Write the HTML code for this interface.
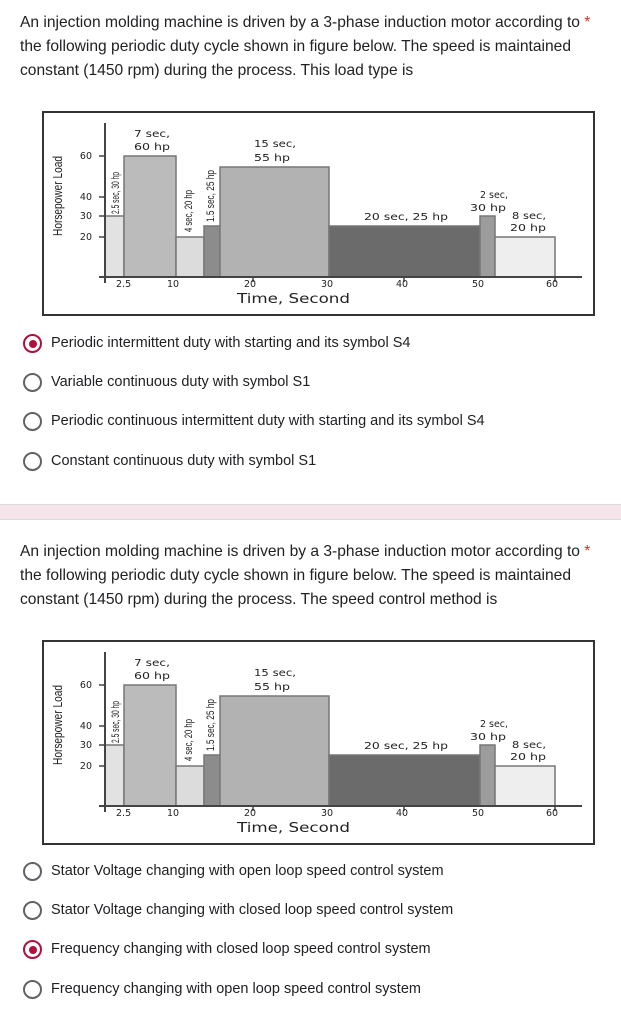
<!DOCTYPE html>
<html><head><style>
body{margin:0;width:621px;height:1024px;background:#fff;position:relative;overflow:hidden;font-family:"Liberation Sans",sans-serif;color:#202124}
.q{position:absolute;left:20px;font-size:15.6px;line-height:24px;width:600px;white-space:nowrap}
.star{color:#d93025}
.opt{position:absolute;left:51px;font-size:14.5px;line-height:18px}
.rad{position:absolute;left:23px;width:15px;height:15px;border:2px solid #5f6368;border-radius:50%;box-sizing:content-box}
.rad.on{border-color:#b0103a}
.rad.on::after{content:"";position:absolute;left:3.5px;top:3.5px;width:8px;height:8px;border-radius:50%;background:#b0103a}
.band{position:absolute;left:0;top:504px;width:621px;height:14px;background:#f5e4ea;border-top:1px solid #ddd;border-bottom:1px solid #ddd}
svg{position:absolute;left:0}
</style></head><body>

<div class="q" style="top:11px">An injection molding machine is driven by a 3-phase induction motor according to <span class="star">*</span><br>the following periodic duty cycle shown in figure below. The speed is maintained<br>constant (1450 rpm) during the process. This load type is</div>

<svg id="c1" style="top:0" width="621" height="330" viewBox="0 0 621 330">
<g id="chart">
<rect x="43" y="112" width="551" height="203" fill="#fff" stroke="#333" stroke-width="2"/>
<g stroke="#777" stroke-width="1.5">
<rect x="105" y="216" width="19" height="61" fill="#e2e2e2"/>
<rect x="124" y="156" width="52" height="121" fill="#bbb"/>
<rect x="176" y="237" width="28" height="40" fill="#dcdcdc"/>
<rect x="204" y="226" width="16" height="51" fill="#8c8c8c"/>
<rect x="220" y="167" width="109" height="110" fill="#b2b2b2"/>
<rect x="329" y="226" width="151" height="51" fill="#6b6b6b"/>
<rect x="480" y="216" width="15" height="61" fill="#9c9c9c"/>
<rect x="495" y="237" width="60" height="40" fill="#eee"/>
</g>
<line x1="105" y1="123" x2="105" y2="283" stroke="#444" stroke-width="2"/>
<line x1="99" y1="277" x2="582" y2="277" stroke="#444" stroke-width="2"/>
<g stroke="#444" stroke-width="1.5">
<line x1="99" y1="156" x2="105" y2="156"/><line x1="99" y1="197" x2="105" y2="197"/>
<line x1="99" y1="216" x2="105" y2="216"/><line x1="99" y1="237" x2="105" y2="237"/>
<line x1="253" y1="277" x2="253" y2="282"/><line x1="404" y1="277" x2="404" y2="282"/><line x1="555" y1="277" x2="555" y2="282"/>
</g>
<g font-family="DejaVu Sans,sans-serif" font-size="9.5" fill="#222" text-anchor="end">
<text x="92" y="159">60</text><text x="92" y="200">40</text><text x="92" y="219">30</text><text x="92" y="240">20</text>
</g>
<g font-family="DejaVu Sans,sans-serif" font-size="9.5" fill="#222" lengthAdjust="spacingAndGlyphs">
<text x="116" y="287">2.5</text><text x="167" y="287">10</text><text x="244" y="287">20</text><text x="321" y="287">30</text><text x="396" y="287">40</text><text x="472" y="287">50</text><text x="546" y="287">60</text>
<text x="134" y="137" textLength="36" lengthAdjust="spacingAndGlyphs">7 sec,</text><text x="134" y="150" textLength="36" lengthAdjust="spacingAndGlyphs">60 hp</text>
<text x="254" y="147" textLength="42" lengthAdjust="spacingAndGlyphs">15 sec,</text><text x="254" y="161" textLength="36" lengthAdjust="spacingAndGlyphs">55 hp</text>
<text x="480" y="198" textLength="28" lengthAdjust="spacingAndGlyphs">2 sec,</text><text x="470" y="211" textLength="36" lengthAdjust="spacingAndGlyphs">30 hp</text>
<text x="364" y="220" textLength="84" lengthAdjust="spacingAndGlyphs">20 sec, 25 hp</text>
<text x="512" y="219" textLength="34" lengthAdjust="spacingAndGlyphs">8 sec,</text><text x="510" y="231" textLength="36" lengthAdjust="spacingAndGlyphs">20 hp</text>
<text x="237" y="303" font-size="13" textLength="113" lengthAdjust="spacingAndGlyphs">Time, Second</text>
</g>
<g font-family="Liberation Sans Narrow,Liberation Sans,sans-serif" font-size="11" fill="#222" text-anchor="middle">
<text transform="translate(119,193) rotate(-90)" textLength="42" lengthAdjust="spacingAndGlyphs">2.5 sec, 30 hp</text>
<text transform="translate(192,211) rotate(-90)" textLength="42" lengthAdjust="spacingAndGlyphs">4 sec, 20 hp</text>
<text transform="translate(214,196) rotate(-90)" textLength="52" lengthAdjust="spacingAndGlyphs">1.5 sec, 25 hp</text>
<text transform="translate(62,196) rotate(-90)" font-size="13" textLength="80" lengthAdjust="spacingAndGlyphs">Horsepower Load</text>
</g>
</g>
</svg>

<div class="rad on" style="top:334px"></div><div class="opt" style="top:334px">Periodic intermittent duty with starting and its symbol S4</div>
<div class="rad" style="top:373px"></div><div class="opt" style="top:373px">Variable continuous duty with symbol S1</div>
<div class="rad" style="top:412px"></div><div class="opt" style="top:412px">Periodic continuous intermittent duty with starting and its symbol S4</div>
<div class="rad" style="top:452px"></div><div class="opt" style="top:452px">Constant continuous duty with symbol S1</div>

<div class="band"></div>

<div class="q" style="top:540px">An injection molding machine is driven by a 3-phase induction motor according to <span class="star">*</span><br>the following periodic duty cycle shown in figure below. The speed is maintained<br>constant (1450 rpm) during the process. The speed control method is</div>

<svg style="top:529px" width="621" height="330" viewBox="0 0 621 330"><use href="#chart"/></svg>

<div class="rad" style="top:862px"></div><div class="opt" style="top:862px">Stator Voltage changing with open loop speed control system</div>
<div class="rad" style="top:901px"></div><div class="opt" style="top:901px">Stator Voltage changing with closed loop speed control system</div>
<div class="rad on" style="top:940px"></div><div class="opt" style="top:940px">Frequency changing with closed loop speed control system</div>
<div class="rad" style="top:980px"></div><div class="opt" style="top:980px">Frequency changing with open loop speed control system</div>
</body></html>
